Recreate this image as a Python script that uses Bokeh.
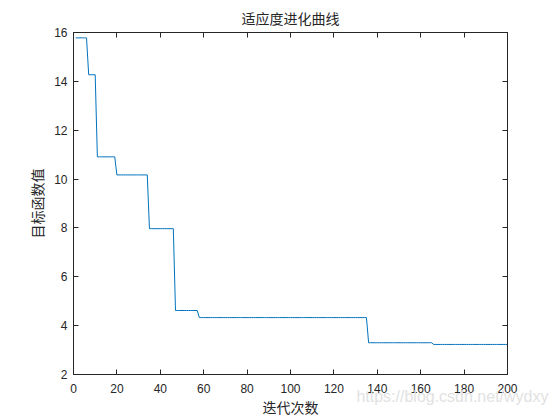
import numpy as np
from bokeh.plotting import figure
from bokeh.models import LinearAxis, Range1d, FixedTicker, Title
from bokeh.embed import file_html
from bokeh.resources import INLINE

# step levels of the best-fitness curve: first iteration of each level and its value
level_start = [1, 7, 11, 20, 35, 47, 58, 136, 166]
level_value = [15.78, 14.27, 10.91, 10.17, 7.97, 4.62, 4.33, 3.30, 3.23]
n_iter = 200

x_ticks = [0, 20, 40, 60, 80, 100, 120, 140, 160, 180, 200]
y_ticks = [2, 4, 6, 8, 10, 12, 14, 16]

title_text = "适应度进化曲线"
x_label = "迭代次数"
y_label = "目标函数值"
watermark = "https://blog.csdn.net/wydxy"

iters = np.arange(1, n_iter + 1)
ends = level_start[1:] + [n_iter + 1]
vals = np.concatenate([np.full(e - s, v) for s, e, v in zip(level_start, ends, level_value)])

p = figure(width=560, height=420, output_backend="svg", toolbar_location=None,
           x_range=Range1d(0, 200), y_range=Range1d(2, 16),
           min_border_left=73, min_border_right=53, min_border_top=32, min_border_bottom=46)
p.title.text = title_text
p.title.align = "center"
p.title.text_font = "Noto Sans CJK SC"
p.title.text_font_size = "14px"
p.title.text_font_style = "normal"
p.title.text_color = "#262626"
p.title.standoff = 10
p.title.offset = 0

p.line(iters, vals, line_color="#0072BD", line_width=1)

p.grid.visible = False
p.outline_line_color = "#262626"
p.outline_line_width = 1
p.background_fill_color = "white"
p.border_fill_color = "white"

for ax, ticks in ((p.xaxis[0], x_ticks), (p.yaxis[0], y_ticks)):
    ax.ticker = FixedTicker(ticks=ticks)
    ax.major_tick_in = 5
    ax.major_tick_out = 0
    ax.minor_tick_line_color = None
    ax.axis_line_color = "#262626"
    ax.major_tick_line_color = "#262626"
    ax.major_label_text_font = "Liberation Sans"
    ax.major_label_text_font_size = "12px"
    ax.major_label_text_color = "#262626"
    ax.axis_label_text_font = "Noto Sans CJK SC"
    ax.axis_label_text_font_size = "14px"
    ax.axis_label_text_font_style = "normal"
    ax.axis_label_text_color = "#262626"

p.xaxis[0].axis_label = x_label
p.xaxis[0].major_label_standoff = 9
p.xaxis[0].axis_label_standoff = 1
p.yaxis[0].axis_label = y_label
p.yaxis[0].major_label_standoff = 6
p.yaxis[0].axis_label_standoff = 4

top = LinearAxis(ticker=FixedTicker(ticks=x_ticks))
right = LinearAxis(ticker=FixedTicker(ticks=y_ticks))
for ax, ticks in ((top, x_ticks), (right, y_ticks)):
    ax.major_tick_in = 5
    ax.major_tick_out = 0
    ax.minor_tick_line_color = None
    ax.major_label_overrides = {t: "" for t in ticks}
    ax.major_label_standoff = 0
    ax.axis_line_color = "#262626"
    ax.major_tick_line_color = "#262626"
p.add_layout(top, "above")
p.add_layout(right, "right")

p.add_layout(Title(text=watermark, align="right", vertical_align="top",
                   text_font="Liberation Sans", text_font_size="16px",
                   text_font_style="normal", text_color="#e2e2e2",
                   standoff=-63, offset=-41), "below")

open("out.html", "w").write(file_html(p, INLINE))
